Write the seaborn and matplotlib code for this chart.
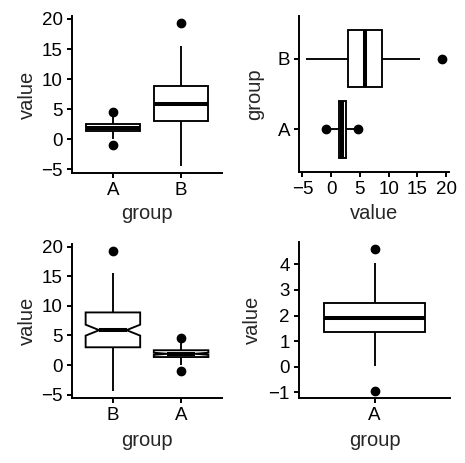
import numpy as np
import pandas as pd
import matplotlib
matplotlib.use("Agg")
import matplotlib.pyplot as plt
import seaborn as sns

# values read off the boxes (outliers, whisker ends, hinges, median) and how many
# observations sit at each one, so each group has n = 100 like the original
a_values = [-0.95, 0.03, 1.35, 1.9, 2.5, 4.05, 4.6]
a_counts = [1, 1, 38, 20, 38, 1, 1]
b_values = [-4.4, 3.0, 5.9, 8.9, 15.5, 19.3]
b_counts = [1, 38, 21, 38, 1, 1]
groups = ["A", "B"]

value_ticks = [-5, 0, 5, 10, 15, 20]
a_ticks = [-1, 0, 1, 2, 3, 4]

df = pd.DataFrame({
    "group": np.repeat(groups, [sum(a_counts), sum(b_counts)]),
    "value": np.concatenate([np.repeat(a_values, a_counts),
                             np.repeat(b_values, b_counts)]),
})
df_a = df[df["group"] == "A"]

sns.set_theme(style="ticks")
plt.rcParams["font.family"] = ["Liberation Sans", "DejaVu Sans"]

W, H = 465, 463
fig = plt.figure(figsize=(W / 100, H / 100), dpi=100)


def px_axes(left, top, right, bottom):
    ax = fig.add_axes([left / W, 1 - bottom / H, (right - left) / W, (bottom - top) / H])
    ax._px = (left, top, right, bottom)
    return ax


box_kws = dict(color="white", linecolor="black", linewidth=1.35, width=0.8,
               showcaps=False, fliersize=6,
               flierprops=dict(marker="o", markerfacecolor="black", markeredgecolor="black"),
               medianprops=dict(linewidth=2.9))


def style(ax, xlabel, ylabel, xlab_base, ylab_base):
    sns.despine(ax=ax)
    for s in ["left", "bottom"]:
        ax.spines[s].set_linewidth(1.4)
        ax.spines[s].set_color("black")
    ax.tick_params(length=3.5, width=1.4, labelsize=13.5, colors="black", pad=3)
    ax.set_xlabel(xlabel, fontsize=14.5, va="baseline")
    ax.set_ylabel(ylabel, fontsize=14.5, va="baseline")
    left, top, right, bottom = ax._px
    # label baselines placed at the pixel positions
    ax.xaxis.set_label_coords(0.5, (bottom - xlab_base) / (bottom - top))
    ax.yaxis.set_label_coords((ylab_base - left) / (right - left), 0.5)


def value_lim(vals):
    lo, hi = min(vals), max(vals)
    pad = (hi - lo) * 0.05
    return lo - pad, hi + pad


all_values = a_values + b_values

ax1 = px_axes(72, 16, 222, 173)
sns.boxplot(data=df, x="group", y="value", order=["A", "B"], ax=ax1, **box_kws)
ax1.set_xlim(-0.6, 1.6)
ax1.set_ylim(*value_lim(all_values))
ax1.set_yticks(value_ticks)
style(ax1, "group", "value", 219, 33)

ax2 = px_axes(299, 16, 449, 172)
sns.boxplot(data=df, x="value", y="group", order=["B", "A"], orient="y", ax=ax2, **box_kws)
ax2.set_ylim(1.6, -0.6)
ax2.set_xlim(*value_lim(all_values))
ax2.set_xticks(value_ticks)
style(ax2, "value", "group", 219, 260)

ax3 = px_axes(72, 244, 222, 398)
sns.boxplot(data=df, x="group", y="value", order=["B", "A"], notch=True, ax=ax3, **box_kws)
ax3.set_xlim(-0.6, 1.6)
ax3.set_ylim(*value_lim(all_values))
ax3.set_yticks(value_ticks)
style(ax3, "group", "value", 446, 33)

ax4 = px_axes(299, 242, 450, 398)
sns.boxplot(data=df_a, x="group", y="value", order=["A"], ax=ax4, **box_kws)
ax4.set_xlim(-0.6, 0.6)
ax4.set_ylim(*value_lim(a_values))
ax4.set_yticks(a_ticks)
style(ax4, "group", "value", 446, 258)

fig.savefig("out.png", dpi=100)
